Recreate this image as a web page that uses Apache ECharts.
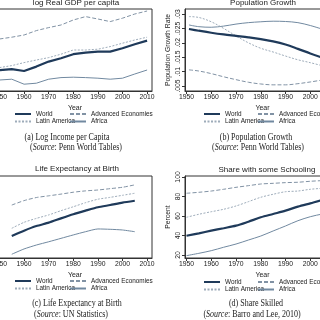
<!DOCTYPE html>
<html>
<head>
<meta charset="utf-8">
<script src="https://cdn.jsdelivr.net/npm/echarts@6/dist/echarts.min.js"></script>
<style>
html, body { margin: 0; padding: 0; background: #fff; }
#main { width: 320px; height: 320px; }
</style>
</head>
<body>
<div id="main"></div>
<script>
// panel (a) log real GDP per capita
var gdpYears = [1950, 1955, 1960, 1965, 1970, 1975, 1980, 1985, 1990, 1995, 2000, 2005, 2010];
var gdpWorld = [7.54, 7.59, 7.50, 7.72, 7.97, 8.14, 8.34, 8.42, 8.47, 8.47, 8.64, 8.84, 9.02];
var gdpAdvanced = [9.10, 9.19, 9.30, 9.52, 9.67, 9.80, 10.05, 10.22, 10.10, 9.97, 10.14, 10.35, 10.50];
var gdpLatin = [7.67, 7.77, 7.92, 8.05, 8.17, 8.34, 8.55, 8.55, 8.59, 8.72, 8.89, 9.05, 9.19];
var gdpAfrica = [7.05, 7.09, 6.84, 6.89, 7.09, 7.17, 7.19, 7.17, 7.14, 7.09, 7.14, 7.35, 7.55];

// panel (b) population growth
var popYears = [1951, 1955, 1960, 1965, 1970, 1975, 1980, 1985, 1990, 1995, 2000, 2005];
var popWorld = [.0248, .0242, .0235, .0229, .0224, .0219, .0213, .0205, .0194, .0179, .0163, .0148];
var popAdvanced = [.0106, .0102, .0093, .0082, .0072, .0063, .0057, .0054, .0054, .0058, .0064, .0071];
var popLatin = [.0291, .0288, .0273, .0250, .0224, .0200, .0181, .0168, .0154, .0141, .0131, .0120];
var popAfrica = [.0262, .0256, .0254, .0258, .0265, .0270, .0273, .0275, .0274, .0270, .0260, .0247];

// panel (c) life expectancy
var lifeYears = [1955, 1960, 1965, 1970, 1975, 1980, 1985, 1990, 1995, 2000, 2005];
var lifeWorld = [47.9, 51.0, 53.7, 55.7, 58.2, 60.6, 62.7, 64.7, 66.0, 67.4, 68.5];
var lifeAdvanced = [66.0, 68.6, 70.4, 71.4, 72.4, 73.5, 74.3, 74.8, 75.6, 76.4, 77.8];
var lifeLatin = [52.4, 55.9, 58.2, 60.2, 62.7, 65.0, 67.4, 69.4, 70.5, 71.7, 72.9];
var lifeAfrica = [37.2, 40.3, 42.6, 44.5, 46.5, 48.5, 50.4, 52.0, 51.8, 51.4, 50.4];

// panel (d) share with some schooling
var schoolYears = [1950, 1955, 1960, 1965, 1970, 1975, 1980, 1985, 1990, 1995, 2000, 2005, 2010];
var schoolWorld = [39.8, 42.3, 45.0, 47.5, 50.1, 54.2, 58.7, 62.1, 65.5, 69.6, 73.0, 76.4, 79.0];
var schoolAdvanced = [83.3, 84.3, 85.6, 87.4, 89.4, 91.1, 92.8, 93.5, 94.2, 94.6, 95.6, 96.3, 97.0];
var schoolLatin = [58.7, 61.8, 64.4, 66.9, 70.3, 74.7, 79.2, 82.3, 84.9, 85.6, 87.4, 88.4, 89.0];
var schoolAfrica = [19.4, 21.8, 24.5, 28.0, 31.3, 35.4, 39.5, 44.7, 49.8, 55.2, 59.3, 62.1, 64.0];

var yearTicks = [1950, 1960, 1970, 1980, 1990, 2000, 2010];
var popTicks = [.005, .01, .015, .02, .025, .03];
var pctTicks = [20, 40, 60, 80, 100];
var seriesNames = ['World', 'Advanced Economies', 'Latin America', 'Africa'];

var narrow = '"Liberation Sans Narrow", "Arial Narrow", "Liberation Sans", Arial, sans-serif';
var sans = '"Liberation Sans", Arial, sans-serif';
var serif = '"Liberation Serif", "Times New Roman", serif';
var ink = '#222';

var styles = {
  'World': { color: '#1f3a5a', width: 2.2, type: 'solid' },
  'Advanced Economies': { color: '#8192a4', width: 1, type: [4, 2] },
  'Latin America': { color: '#9eacba', width: 1, type: [2, 1.5] },
  'Africa': { color: '#7189a0', width: 1, type: 'solid' }
};

function pairs(xs, ys) {
  return xs.map(function (x, i) { return [x, ys[i]]; });
}

var myChart = echarts.init(document.getElementById('main'), null, { renderer: 'canvas' });

var grids = [
  { left: -2, top: 9, width: 154, height: 82 },
  { left: 185, top: 9, width: 155, height: 82 },
  { left: -2, top: 176, width: 154, height: 82 },
  { left: 185, top: 176, width: 155, height: 82 }
].map(function (g) {
  g.show = true; g.borderColor = '#333'; g.borderWidth = 1; g.backgroundColor = '#fff';
  g.containLabel = false; g.outerBoundsMode = 'none';
  return g;
});

var xAxes = [0, 1, 2, 3].map(function (i) {
  return {
    gridIndex: i, type: 'value', min: 1949.4, max: 2012,
    name: 'Year', nameLocation: 'middle', nameGap: 14,
    nameTextStyle: { fontSize: 7, fontFamily: narrow, color: ink },
    axisLine: { show: true, lineStyle: { color: '#333', width: 1 } },
    axisTick: { show: true, length: 3, lineStyle: { color: '#333' }, customValues: yearTicks },
    axisLabel: {
      customValues: yearTicks, fontSize: 6.8, fontFamily: narrow, color: ink, margin: 3,
      hideOverlap: false, formatter: function (v) { return String(v); }
    },
    splitLine: { show: false }
  };
});

function yAxis(i, min, max, ticks, name, fmt, showLabels) {
  return {
    gridIndex: i, type: 'value', min: min, max: max,
    name: name, nameLocation: 'middle', nameGap: 13,
    nameTextStyle: { fontSize: 6.8, fontFamily: sans, color: ink },
    axisLine: { show: true, lineStyle: { color: '#333', width: 1 } },
    axisTick: { show: true, length: 3, lineStyle: { color: '#333' }, customValues: ticks },
    axisLabel: { show: showLabels, customValues: ticks, rotate: 90, fontSize: 6.8, fontFamily: sans, color: ink, margin: 3, formatter: fmt },
    splitLine: { show: false }
  };
}

var yAxes = [
  yAxis(0, 6.5, 10.6, [7, 8, 9, 10], '', null, false),
  yAxis(1, .00326, .03174, popTicks, 'Population Growth Rate', function (v) {
    return String(+v.toFixed(3)).replace(/^0/, '');
  }, true),
  yAxis(2, 35, 83, [40, 50, 60, 70, 80], '', null, false),
  yAxis(3, 17, 101, pctTicks, 'Percent', function (v) { return String(v); }, true)
];

var panels = [
  { years: gdpYears, vals: [gdpWorld, gdpAdvanced, gdpLatin, gdpAfrica], smooth: false },
  { years: popYears, vals: [popWorld, popAdvanced, popLatin, popAfrica], smooth: 0.35 },
  { years: lifeYears, vals: [lifeWorld, lifeAdvanced, lifeLatin, lifeAfrica], smooth: 0.2 },
  { years: schoolYears, vals: [schoolWorld, schoolAdvanced, schoolLatin, schoolAfrica], smooth: 0.3 }
];

var series = [];
panels.forEach(function (p, i) {
  // draw World last so it sits on top
  [3, 2, 1, 0].forEach(function (k) {
    var nm = seriesNames[k];
    series.push({
      name: nm, type: 'line', xAxisIndex: i, yAxisIndex: i,
      data: pairs(p.years, p.vals[k]),
      symbol: 'none', smooth: p.smooth,
      lineStyle: styles[nm], itemStyle: { color: styles[nm].color },
      z: 3 + (3 - k)
    });
  });
});

// two legend columns under each panel
var legendSpots = [
  [14, 69, 111], [203, 257, 111], [14, 69, 278], [203, 257, 279]
];
var legends = [];
legendSpots.forEach(function (s) {
  [[s[0], ['World', 'Latin America']], [s[1], ['Advanced Economies', 'Africa']]].forEach(function (c) {
    legends.push({
      orient: 'vertical', left: c[0], top: s[2], padding: 0,
      itemWidth: 16, itemHeight: 6, itemGap: 1.5, selectedMode: false,
      itemStyle: { opacity: 0 },
      data: c[1],
      textStyle: { fontSize: 6.4, fontFamily: narrow, color: ink }
    });
  });
});

function txt(x, y, text, size, family, extra) {
  var st = { text: text, fill: ink, fontSize: size, fontFamily: family, align: 'center', verticalAlign: 'middle' };
  if (extra) st.rich = extra;
  return { type: 'text', x: x, y: y, scaleX: family === serif ? 0.8 : 1, style: st, z: 10 };
}
var it = { it: { fontStyle: 'italic', fontSize: 10, fontFamily: serif, fill: ink } };

var graphics = [
  txt(76, 3, 'log Real GDP per capita', 8, narrow),
  txt(263, 3, 'Population Growth', 8, narrow),
  txt(77, 169, 'Life Expectancy at Birth', 8, narrow),
  txt(267, 170, 'Share with some Schooling', 8, narrow),
  txt(67, 137, '(a) Log Income per Capita', 10, serif),
  txt(76, 147, '({it|Source}: Penn World Tables)', 10, serif, it),
  txt(256, 137, '(b) Population Growth', 10, serif),
  txt(258, 147, '({it|Source}: Penn World Tables)', 10, serif, it),
  txt(77, 303, '(c) Life Expectancy at Birth', 10, serif),
  txt(71, 314, '({it|Source}: UN Statistics)', 10, serif, it),
  txt(256, 303, '(d) Share Skilled', 10, serif),
  txt(252, 314, '({it|Source}: Barro and Lee, 2010)', 10, serif, it)
];

myChart.setOption({
  animation: false,
  backgroundColor: '#fff',
  grid: grids,
  xAxis: xAxes,
  yAxis: yAxes,
  legend: legends,
  series: series,
  graphic: graphics
});
</script>
</body>
</html>
